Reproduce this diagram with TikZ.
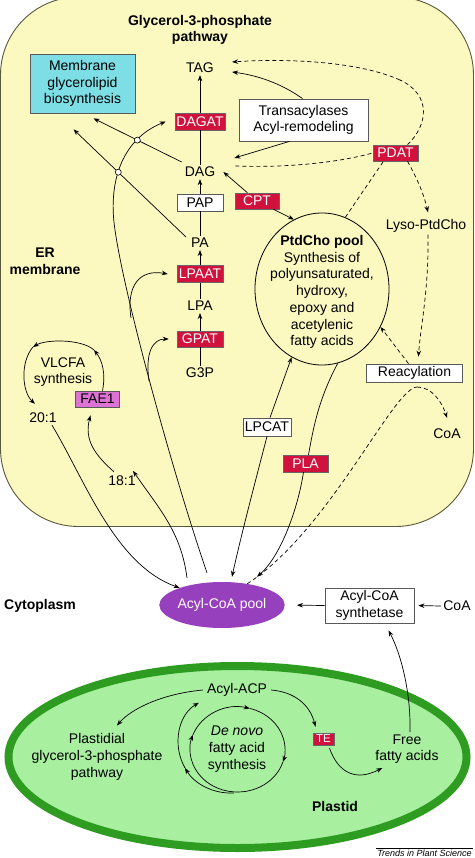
\documentclass[tikz,border=0pt]{standalone}
\usepackage{fontspec}
\setmainfont{Liberation Sans}
\usetikzlibrary{arrows.meta,shapes.geometric,intersections,calc}
\definecolor{eryellow}{RGB}{251,248,192}
\definecolor{erborder}{RGB}{90,88,60}
\definecolor{redfill}{RGB}{208,18,60}
\definecolor{cyanfill}{RGB}{125,222,230}
\definecolor{magfill}{RGB}{222,115,214}
\definecolor{poolfill}{RGB}{150,64,190}
\definecolor{plfill}{RGB}{168,240,160}
\definecolor{plborder}{RGB}{46,156,32}
\begin{document}
\begin{tikzpicture}[x=1pt,y=-1pt,
  txt/.style={font=\fontsize{14}{16.7}\selectfont, align=center, inner sep=2pt},
  bld/.style={font=\fontsize{14}{16.7}\selectfont\bfseries, align=center, inner sep=2pt},
  redbox/.style={font=\fontsize{14}{16.7}\selectfont, fill=redfill, draw=black!60, line width=0.5pt, text=white, inner sep=0pt},
  wbox/.style={font=\fontsize{14}{16.7}\selectfont, align=center, fill=white, draw=black!65, line width=0.8pt, inner sep=0pt},
  ln/.style={line width=0.7pt},
  arr/.style={line width=0.7pt, -{Stealth[length=6pt,width=4.5pt]}},
  dsh/.style={line width=0.7pt, dash pattern=on 4pt off 3pt},
  xmark/.style={circle, draw, fill=white, inner sep=0pt, minimum size=6pt, line width=0.6pt},
]
\useasboundingbox (0,0) rectangle (474,858);
% ER membrane
\draw[fill=eryellow, draw=erborder, line width=0.9pt, rounded corners=78pt] (0.5,-3) rectangle (473.5,526.5);
% Plastid
\draw[fill=plfill, draw=plborder, line width=8pt] (237.5,757) ellipse [x radius=229, y radius=91];

% ---------- nodes ----------
\node[bld] (title) at (200,30) {Glycerol-3-phosphate\\pathway};
\node[txt, fill=cyanfill, draw=black!65, line width=0.8pt, minimum width=105pt, minimum height=59pt, inner sep=0pt] (mem) at (82.5,83.5) {Membrane\\glycerolipid\\biosynthesis};
\node[txt] (tag) at (200,68) {TAG};
\node[redbox, minimum width=50pt, minimum height=17pt] (dagat) at (200,121.5) {DAGAT};
\node[wbox, minimum width=129pt, minimum height=42pt] (trans) at (303.5,120) {Transacylases\\Acyl-remodeling};
\node[txt] (dag) at (200,172) {DAG};
\node[redbox, minimum width=45pt, minimum height=16pt] (pdat) at (395.5,153) {PDAT};
\node[wbox, minimum width=46pt, minimum height=17pt] (pap) at (200,202.5) {PAP};
\node[redbox, minimum width=44pt, minimum height=16pt] (cpt) at (257,201) {CPT};
\node[txt] (pa) at (200,243) {PA};
\node[redbox, minimum width=46pt, minimum height=17pt] (lpaat) at (200,274) {LPAAT};
\node[txt] (lpa) at (200,306) {LPA};
\node[redbox, minimum width=46pt, minimum height=16pt] (gpat) at (200,339) {GPAT};
\node[txt] (g3p) at (200,373) {G3P};
\node[bld] (er) at (45,261) {ER\\membrane};
\node[ellipse, draw, line width=0.8pt, minimum width=134pt, minimum height=152pt, inner sep=0pt] (ptd) at (322,289) {};
\node[txt] (ptdtxt) at (322,292) {\textbf{PtdCho pool}\\Synthesis of\\polyunsaturated,\\hydroxy,\\epoxy and\\acetylenic\\fatty acids};
\node[txt] (lyso) at (426,226) {Lyso-PtdCho};
\node[wbox, minimum width=96pt, minimum height=18pt] (reac) at (414.5,373) {Reacylation};
\node[txt] (coa1) at (447,434) {CoA};
\node[txt] (vlcfa) at (63,372) {VLCFA\\synthesis};
\node[txt, fill=magfill, draw=black!65, line width=0.7pt, minimum width=44pt, minimum height=16pt, inner sep=0pt] (fae) at (97.5,399) {FAE1};
\node[txt] (t201) at (43,418) {20:1};
\node[txt] (t181) at (122,481) {18:1};
\node[wbox, minimum width=48pt, minimum height=18pt] (lpcat) at (267,427) {LPCAT};
\node[redbox, minimum width=45pt, minimum height=17pt] (pla) at (305.5,463.5) {PLA};
\node[bld] (cyto) at (40,606) {Cytoplasm};
\node[ellipse, fill=poolfill, minimum width=110pt, minimum height=46pt, inner sep=0pt, text=white, font=\fontsize{14}{16.7}\selectfont] (pool) at (222,605) {Acyl-CoA pool};
\node[wbox, minimum width=89pt, minimum height=35pt] (acs) at (369.5,605.5) {Acyl-CoA\\synthetase};
\node[txt] (coa2) at (457,606) {CoA};
% plastid contents
\node[txt] (acp) at (237,690) {Acyl-ACP};
\node[txt] (plgp) at (97,757) {Plastidial\\glycerol-3-phosphate\\pathway};
\node[txt] (denovo) at (237,749) {\textit{De novo}\\fatty acid\\synthesis};
\node[redbox, minimum width=21pt, minimum height=12pt, font=\fontsize{11.5}{13}\selectfont] (te) at (323.5,739) {TE};
\node[txt] (ffa) at (407,749) {Free\\fatty acids};
\node[bld] (plastid) at (335,806) {Plastid};
\node[font=\fontsize{9}{10}\selectfont\itshape, inner sep=1pt] (credit) at (424.5,853) {Trends in Plant Science};
\draw[line width=0.5pt] (credit.north west) -- (credit.north east);

% ---------- main chain ----------
\draw[ln] (g3p) -- (gpat);
\draw[arr] (gpat) -- (lpa);
\draw[ln] (lpa) -- (lpaat);
\draw[arr] (lpaat) -- (pa);
\draw[ln] (pa) -- (pap);
\draw[arr] (pap) -- (dag);
\draw[ln] (dag) -- (dagat);
\draw[arr] (dagat) -- (tag);

% CPT
\draw[arr] (cpt) -- ([xshift=6pt]dag.east);
\draw[arr] (cpt) -- (ptd.112);

% Transacylases
\coordinate (tagE1) at ($(tag.east)+(16,4)$);
\coordinate (tagE2) at ($(tag.east)+(16,-6)$);
\coordinate (dagE1) at ($(dag.east)+(17,-14)$);
\draw[arr] ([xshift=-1pt]trans.north) .. controls (285,86) and (262,76) .. (tagE1);
\draw[arr] ([xshift=-14pt]trans.south) -- (dagE1);

% to membrane glycerolipid box
\coordinate (memA) at ($(mem.south)+(11,5)$);
\coordinate (memB) at ($(mem.south)+(-9,16)$);
\draw[arr, name path=dagmem] ([shift={(-1,-10)}]dag.west) -- (memA);
\draw[arr, name path=pamem] ([shift={(-3,-6)}]pa.west) -- (memB);

% long path pool -> DAGAT
\coordinate (poolA) at ($(pool.north)+(-15,-9)$);
\draw[arr, name path=long] (poolA) .. controls (175,480) and (125,300) .. (115,230) .. controls (108,185) and (120,140) .. ([xshift=-9pt]dagat.west);
\path[name intersections={of=long and dagmem, by={c1}}];
\path[name intersections={of=long and pamem, by={c2}}];
\node[xmark] (cr1) at (c1) {};
\node[xmark] (cr2) at (c2) {};
% branches to LPAAT and GPAT
\draw[arr] (131,318) .. controls (126,285) and (140,269) .. ([xshift=-9pt]lpaat.west);
\draw[arr] (149,381) .. controls (145,352) and (153,339) .. ([xshift=-8pt]gpat.west);

% VLCFA cycle
\coordinate (v1) at (94,350);
\coordinate (v2) at (33,347);
\draw[arr] ([xshift=5pt]fae.north) .. controls (106,373) and (102,360) .. (v1);
\draw[arr] (v1) .. controls (82,339) and (46,339) .. (v2);
\draw[arr] (v2) .. controls (20,362) and (22,392) .. ([shift={(-8,-7)}]t201.north);
% 18:1 -> FAE1
\draw[arr] ([shift={(-8,-2)}]t181.north) .. controls (95,455) and (84,440) .. ([shift={(-7,8)}]fae.south);
% 20:1 -> pool
\draw[arr] ([xshift=9pt]t201.south) .. controls (85,480) and (115,565) .. (pool.158);
% pool -> 18:1
\coordinate (poolB) at ($(pool.north)+(-35,-4)$);
\draw[arr] (poolB) .. controls (181,532) and (160,510) .. ([shift={(11,-3)}]t181.north);

% LPCAT
\coordinate (poolC) at ($(pool.north)+(10,-5)$);
\draw[arr] ([xshift=3pt]lpcat.north) -- (ptd.246);
\draw[arr] (lpcat.south) .. controls (253,490) and (240,540) .. (poolC);
% PLA
\coordinate (poolD) at ($(pool.north)+(35,-5)$);
\draw[ln] (ptd.282) .. controls (318,400) and (313,430) .. ([xshift=3pt]pla.north);
\draw[arr] ([xshift=-2pt]pla.south) .. controls (298,508) and (281,556) .. (poolD);

% dashed: pool -> reacylation -> CoA
\draw[dsh] (pool.40) .. controls (330,530) and (393,388) .. (417,387);
\draw[dsh, arr, dash pattern=on 4pt off 3pt] (417,387) .. controls (432,387) and (442,402) .. ([shift={(0,-9)}]coa1.north);
% Lyso -> Reacylation, Reacylation -> PtdCho
\draw[dsh, arr, dash pattern=on 4pt off 3pt] ([xshift=2pt]lyso.south) .. controls (429,290) and (420,330) .. ([shift={(4,-7)}]reac.north);
\draw[dsh, arr, dash pattern=on 4pt off 3pt] ([xshift=-6pt]reac.north) -- (ptd.-33);
% PDAT
\draw[dsh] ([shift={(18,-6)}]dag.east) .. controls (290,168) and (340,162) .. (pdat.west);
\draw[dsh] ([xshift=12pt]pdat.north) .. controls (428,125) and (432,95) .. (400,80);
\draw[dsh, arr, dash pattern=on 4pt off 3pt] (400,80) .. controls (360,62) and (290,58) .. (tagE2);
\draw[dsh] (ptd.72) -- ([xshift=-12pt]pdat.south);
\draw[dsh, arr, dash pattern=on 4pt off 3pt] ([xshift=12pt]pdat.south) .. controls (418,180) and (424,195) .. ([shift={(2,-5)}]lyso.north);

% cytoplasm arrows
\draw[arr, shorten >=12pt] (acs.west) -- (pool.east);
\draw[arr, shorten >=4pt] (coa2.west) -- (acs.east);
\draw[arr] ([xshift=3pt]ffa.north) .. controls (411,690) and (400,652) .. ([shift={(19,7)}]acs.south);

% plastid arrows
\coordinate (ffaW) at ($(ffa.west)+(9,19)$);
\draw[arr] ([xshift=-2pt]acp.west) .. controls (160,694) and (130,710) .. ([shift={(20,-6)}]plgp.north);
\draw[arr] ([xshift=2pt]acp.east) .. controls (295,692) and (310,705) .. ([shift={(-8,-6)}]te.north);
\draw[arr] ([shift={(6,3)}]te.south) .. controls (338,772) and (355,782) .. (ffaW);
% de novo cycle
\draw[arr] (237.5,749.5) ++(-160:47.5 and 42.5) arc[start angle=-160, end angle=-75, x radius=47.5, y radius=42.5];
\draw[arr] (237.5,749.5) ++(-75:47.5 and 42.5) arc[start angle=-75, end angle=17, x radius=47.5, y radius=42.5];
\draw[arr] (237.5,749.5) ++(17:47.5 and 42.5) arc[start angle=17, end angle=200, x radius=47.5, y radius=42.5];
\coordinate (o1) at (185,768);
\draw[arr] (234,793) .. controls (212,794) and (194,783) .. (o1);
\draw[arr] (o1) .. controls (172,745) and (178,715) .. ([shift={(-6,4)}]acp.south west);
\end{tikzpicture}
\end{document}
